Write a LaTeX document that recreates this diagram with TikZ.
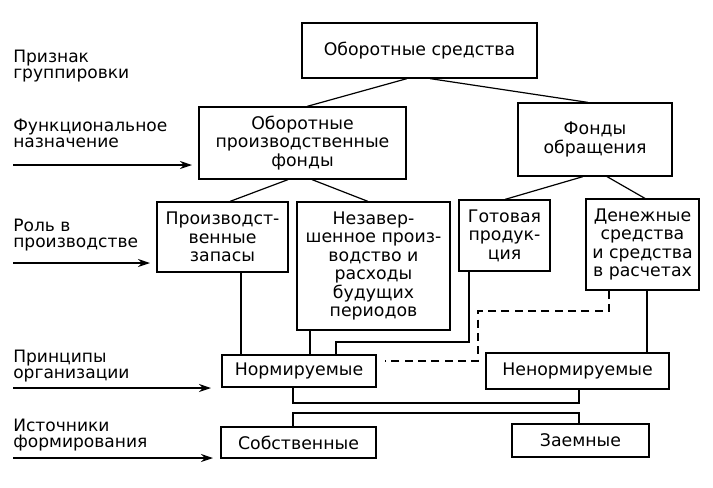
\documentclass[tikz,border=0pt]{standalone}
\usepackage{fontspec}
\setmainfont{DejaVu Sans}
\usetikzlibrary{arrows.meta,calc}
\tikzset{
  box/.style={draw, line width=0.9pt, inner sep=0pt, align=center,
    font=\fontsize{13pt}{13.8pt}\selectfont},
  lbl/.style={inner sep=0pt, anchor=base west, align=left,
    font=\fontsize{12.8pt}{12pt}\selectfont},
  conn/.style={line width=0.9pt},
  dconn/.style={line width=0.9pt, dash pattern=on 6pt off 4pt},
  arr/.style={line width=0.9pt, -{Stealth[length=9pt,width=6pt]}}
}
\begin{document}
\begin{tikzpicture}[x=0.75pt,y=-0.75pt]
\useasboundingbox[fill=white] (0,0) rectangle (713,487);
% boxes
\node[box, minimum width=176.25pt, minimum height=41.25pt] (top) at (419.5,50.5) {Оборотные средства};
\node[box, minimum width=155.25pt, minimum height=54pt] (opf) at (302.5,143) {Оборотные\\производственные\\фонды};
\node[box, minimum width=115.5pt, minimum height=54.75pt] (fo) at (595,139.5) {Фонды\\обращения};
\node[box, minimum width=98.25pt, minimum height=52.5pt] (pz) at (222.5,237) {Производст-\\венные\\запасы};
\node[box, minimum width=114.75pt, minimum height=96pt] (nzp) at (373.5,266) {Незавер-\\шенное произ-\\водство и\\расходы\\будущих\\периодов};
\node[box, minimum width=68.25pt, minimum height=53.25pt] (gp) at (504.5,235.5) {Готовая\\продук-\\ция};
\node[box, minimum width=84.75pt, minimum height=68.25pt] (ds) at (642.5,244.5) {Денежные\\средства\\и средства\\в расчетах};
\node[box, minimum width=115.5pt, minimum height=24pt] (norm) at (299,371) {Нормируемые};
\node[box, minimum width=137.25pt, minimum height=27pt] (nenorm) at (577.5,371) {Ненормируемые};
\node[box, minimum width=116.25pt, minimum height=23.25pt] (sobst) at (298.5,442.5) {Собственные};
\node[box, minimum width=102.75pt, minimum height=24.75pt] (zaem) at (580.5,440.5) {Заемные};
% labels (anchored at the baseline of their last line)
\node[lbl] (l1) at (13,78) {Признак\\группировки};
\node[lbl] (l2) at (13,147) {Функциональное\\назначение};
\node[lbl] (l3) at (13,247) {Роль в\\производстве};
\node[lbl] (l4) at (13,378) {Принципы\\организации};
\node[lbl] (l5) at (13,447) {Источники\\формирования};
% arrows
\coordinate (a2s) at (13,165); \coordinate (a2e) at (192,165);
\coordinate (a3s) at (13,263); \coordinate (a3e) at (150,263);
\coordinate (a4s) at (13,388); \coordinate (a4e) at (211,388);
\coordinate (a5s) at (13,458); \coordinate (a5e) at (213,458);
\draw[arr] (a2s) -- (a2e);
\draw[arr] (a3s) -- (a3e);
\draw[arr] (a4s) -- (a4e);
\draw[arr] (a5s) -- (a5e);
% connectors
\draw[conn] (top.south -| 407,0) -- (opf.north -| 307,0);
\draw[conn] (top.south -| 430,0) -- (fo.north -| 588,0);
\draw[conn] (opf.south -| 288,0) -- (pz.north -| 230,0);
\draw[conn] (opf.south -| 312,0) -- (nzp.north -| 368,0);
\draw[conn] (fo.south -| 583,0) -- (gp.north -| 505,0);
\draw[conn] (fo.south -| 607,0) -- (ds.north -| 645,0);
\draw[conn] (pz.south -| 241,0) -- (norm.north -| 241,0);
\draw[conn] (nzp.south -| 310,0) -- (norm.north -| 310,0);
\draw[conn] (gp.south -| 469,0) |- (336,342) -- (norm.north -| 336,0);
\draw[conn] (ds.south -| 647,0) -- (nenorm.north -| 647,0);
\coordinate (dend) at (385,361);
\draw[dconn] (ds.south -| 609,0) |- (478,311) |- (dend);
\draw[conn] (norm.south -| 293,0) |- (579,403) -- (nenorm.south -| 579,0);
\draw[conn] (sobst.north -| 293,0) |- (579,413) -- (zaem.north -| 579,0);
\end{tikzpicture}
\end{document}
